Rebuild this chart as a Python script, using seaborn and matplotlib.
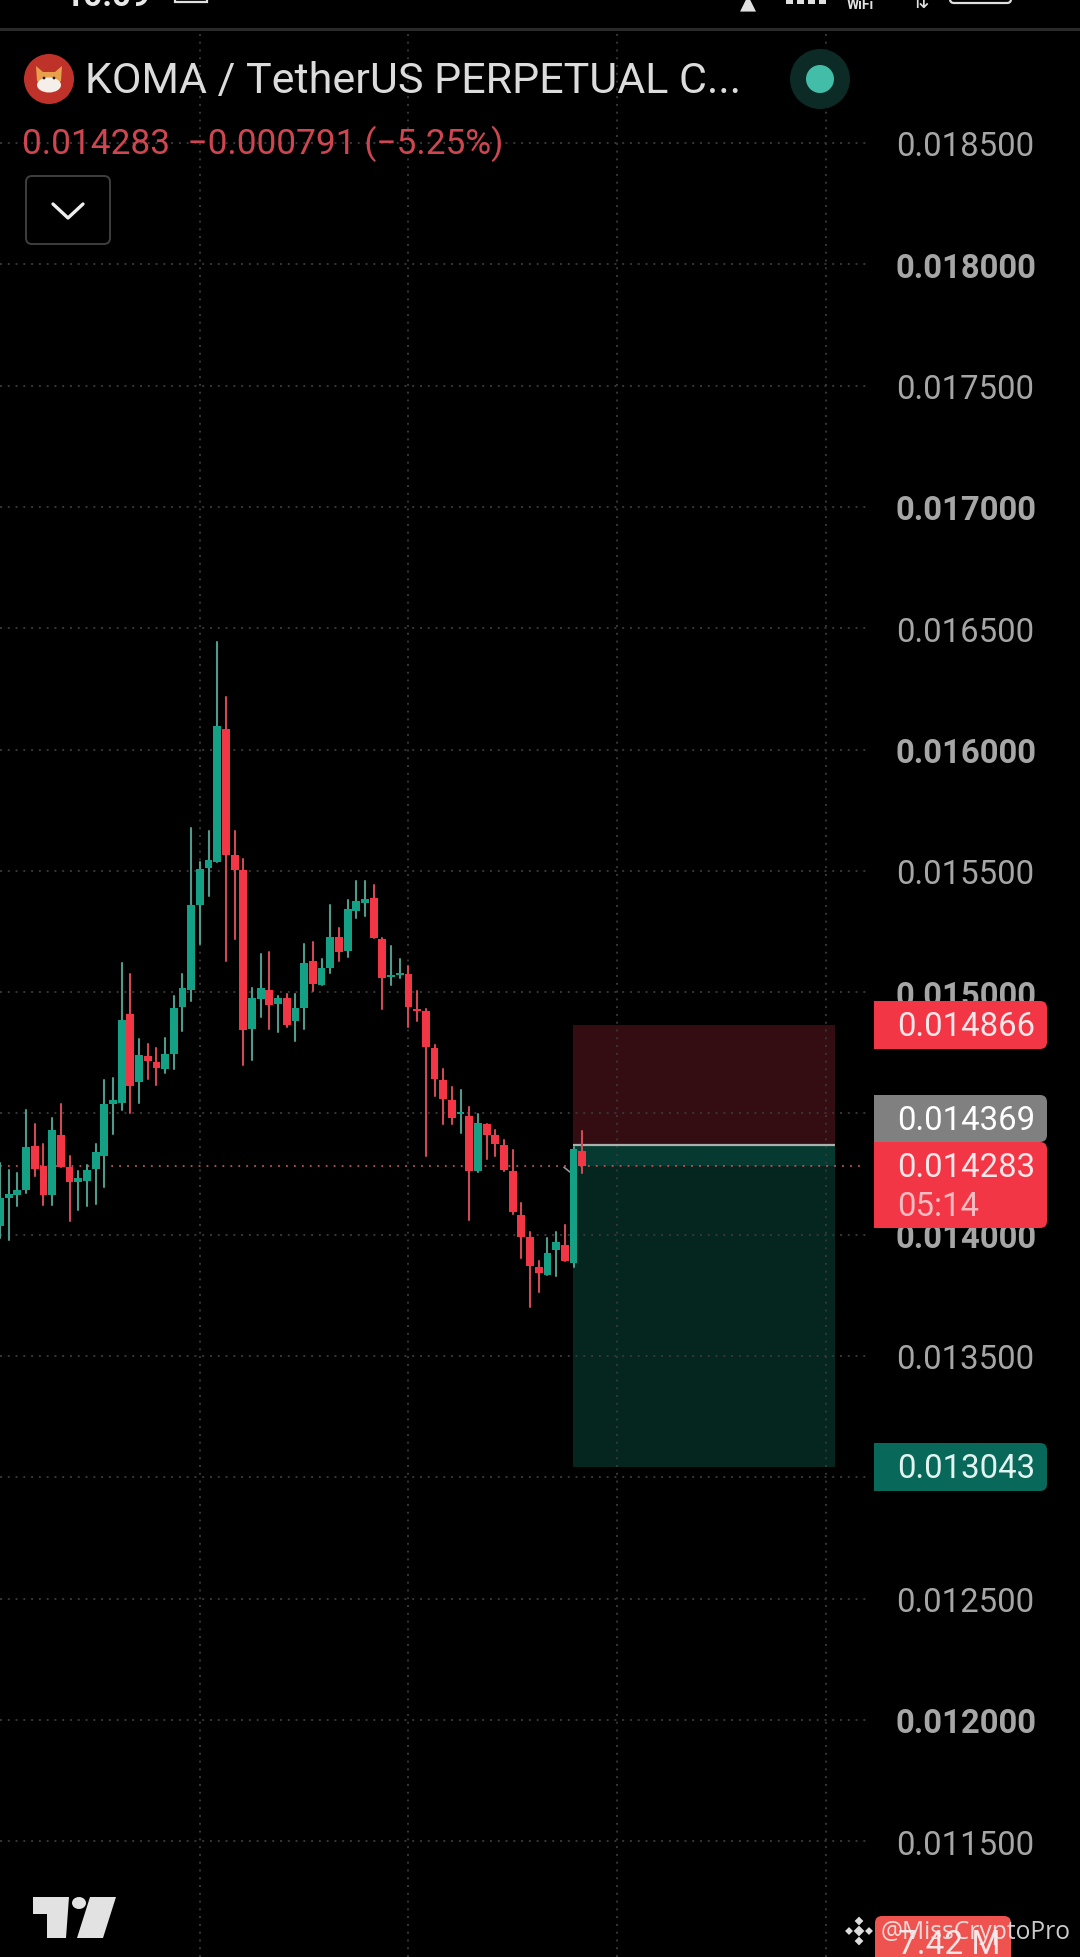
import numpy as np
import pandas as pd
import seaborn as sns
import matplotlib
matplotlib.use("Agg")
import matplotlib.pyplot as plt
from matplotlib.patches import Circle, Ellipse, FancyBboxPatch, Polygon, Rectangle

# candle values
opens = [0.014037, 0.014150, 0.014164, 0.014184, 0.014367, 0.014285, 0.014165, 0.014413, 0.014281, 0.014218,
         0.014222, 0.014271, 0.014326, 0.014537, 0.014543, 0.014911, 0.014630, 0.014735, 0.014713, 0.014682,
         0.014746, 0.014938, 0.015010, 0.015358, 0.015510, 0.015536, 0.016083, 0.015565, 0.015503, 0.014848,
         0.014971, 0.015008, 0.014950, 0.014977, 0.014879, 0.014936, 0.015127, 0.015030, 0.015098, 0.015226,
         0.015171, 0.015333, 0.015366, 0.015387, 0.015219, 0.015061, 0.015072, 0.015075, 0.014930, 0.014921,
         0.014770, 0.014638, 0.014555, 0.014498, 0.014490, 0.014261, 0.014456, 0.014410, 0.014369, 0.014262,
         0.014082, 0.013991, 0.013866, 0.013833, 0.013935, 0.013958, 0.013884, 0.014347]
closes = [0.014150, 0.014167, 0.014184, 0.014363, 0.014271, 0.014165, 0.014433, 0.014281, 0.014218, 0.014232,
          0.014266, 0.014339, 0.014537, 0.014554, 0.014884, 0.014612, 0.014739, 0.014717, 0.014689, 0.014746,
          0.014933, 0.015017, 0.015360, 0.015508, 0.015543, 0.016097, 0.015565, 0.015503, 0.014845, 0.014974,
          0.015015, 0.014947, 0.014974, 0.014866, 0.014934, 0.015119, 0.015034, 0.015098, 0.015226, 0.015167,
          0.015342, 0.015376, 0.015384, 0.015222, 0.015057, 0.015070, 0.015079, 0.014938, 0.014923, 0.014772,
          0.014640, 0.014559, 0.014483, 0.014505, 0.014261, 0.014460, 0.014410, 0.014373, 0.014266, 0.014092,
          0.013990, 0.013870, 0.013844, 0.013924, 0.013971, 0.013890, 0.014354, 0.014283]
highs = [0.014295, 0.014268, 0.014254, 0.014512, 0.014457, 0.014375, 0.014483, 0.014537, 0.014326, 0.014261,
         0.014288, 0.014374, 0.014636, 0.014645, 0.015121, 0.015075, 0.014807, 0.014787, 0.014768, 0.014812,
         0.014984, 0.015075, 0.015676, 0.015536, 0.015664, 0.016445, 0.016217, 0.015664, 0.015549, 0.015015,
         0.015155, 0.015164, 0.014984, 0.014993, 0.014993, 0.015199, 0.015206, 0.015136, 0.015359, 0.015265,
         0.015380, 0.015456, 0.015456, 0.015442, 0.015222, 0.015189, 0.015136, 0.015107, 0.015004, 0.014932,
         0.014780, 0.014681, 0.014608, 0.014598, 0.014527, 0.014498, 0.014457, 0.014432, 0.014391, 0.014350,
         0.014130, 0.014011, 0.013890, 0.013987, 0.014011, 0.014041, 0.014361, 0.014428]
lows = [0.013985, 0.013979, 0.014119, 0.014170, 0.014242, 0.014123, 0.014123, 0.014278, 0.014058, 0.014102,
        0.014119, 0.014128, 0.014198, 0.014415, 0.014515, 0.014503, 0.014541, 0.014641, 0.014616, 0.014667,
        0.014681, 0.014839, 0.014964, 0.015200, 0.015396, 0.015536, 0.015128, 0.015218, 0.014700, 0.014720,
        0.014899, 0.014848, 0.014836, 0.014858, 0.014800, 0.014846, 0.015005, 0.015030, 0.015079, 0.015129,
        0.015145, 0.015307, 0.015315, 0.015222, 0.014931, 0.015030, 0.015057, 0.014858, 0.014879, 0.014326,
        0.014570, 0.014458, 0.014458, 0.014420, 0.014059, 0.014258, 0.014310, 0.014324, 0.014261, 0.014085,
        0.013903, 0.013704, 0.013762, 0.013832, 0.013829, 0.013890, 0.013865, 0.014254]

price_ticks = [0.0115, 0.0120, 0.0125, 0.0130, 0.0135, 0.0140, 0.0145, 0.0150,
               0.0155, 0.0160, 0.0165, 0.0170, 0.0175, 0.0180, 0.0185]
time_ticks = [23, 47, 71, 95]

stop_price = 0.014866
entry_price = 0.014369
target_price = 0.013043
last_price = 0.014283
zone_start, zone_end = 65.9, 96.05

GREEN = "#13a085"
RED = "#f23645"
GREEN_WICK = "#4f9a8a"
RED_WICK = "#cf4a55"
TICK_GREY = "#a6a6a6"
GRID = "#373737"

W, H = 1080, 1958
PX_PER_BAR = 8.69
TOP = 31  # chart starts below the phone status bar
RIGHT = 866
PX_PER_PRICE = 242600.0
LABEL_SIZE = 23.7


def price_y(p):
    return 144 + (0.0185 - p) * PX_PER_PRICE


sns.set_theme(style="dark", rc={"axes.facecolor": "black", "figure.facecolor": "black"})
plt.rcParams["font.family"] = ["Roboto", "DejaVu Sans"]

df = pd.DataFrame({"idx": np.arange(len(opens)), "open": opens, "close": closes, "high": highs, "low": lows})
df["up"] = df["close"] >= df["open"]
df["bottom"] = df[["open", "close"]].min(axis=1)
df["body"] = (df["close"] - df["open"]).abs()

fig = plt.figure(figsize=(W / 100, H / 100), dpi=100, facecolor="black")
ax = fig.add_axes([0, 0, RIGHT / W, (H - TOP) / H])
ax.set_facecolor("black")

# stop / target zones
ax.add_patch(Rectangle((zone_start, entry_price), zone_end - zone_start, stop_price - entry_price,
                       fc="#340d12", ec="none", zorder=0.3))
ax.add_patch(Rectangle((zone_start, target_price), zone_end - zone_start, entry_price - target_price,
                       fc="#04261f", ec="none", zorder=0.3))
ax.add_patch(Rectangle((zone_start, last_price), zone_end - zone_start, entry_price - last_price,
                       fc="#063a30", ec="none", zorder=0.35))
ax.hlines(entry_price, zone_start, zone_end, color="#a9b0ae", lw=1.6, zorder=1.5)

# wicks then bodies
for up, wick_color, body_color in [(True, GREEN_WICK, GREEN), (False, RED_WICK, RED)]:
    part = df[df["up"] == up]
    wicks = part.melt(id_vars="idx", value_vars=["high", "low"], value_name="price")
    sns.lineplot(data=wicks, x="idx", y="price", units="idx", estimator=None, sort=False,
                 color=wick_color, lw=1.5, legend=False, ax=ax, zorder=2)
    sns.barplot(data=part, x="idx", y="body", bottom=part["bottom"].values, native_scale=True,
                color=body_color, saturation=1, width=0.9, errorbar=None, linewidth=0, ax=ax, zorder=3)

ax.hlines(last_price, 0, RIGHT / PX_PER_BAR, color="#b8525a", lw=1.3, linestyles=(0, (1, 3.4)), zorder=1.6)
ax.plot([64.9, 65.6], [0.014238 + 0.00004, 0.014238 + 0.00002], color="#8f9a97", lw=1.2, zorder=1.6)

ax.set_xlim(0, RIGHT / PX_PER_BAR)
ax.set_ylim(0.0185 - (H - 144) / PX_PER_PRICE, 0.0185 + (144 - TOP) / PX_PER_PRICE)
ax.set_xticks(time_ticks)
ax.set_xticklabels([])
ax.set_xlabel("")
ax.set_ylabel("")
ax.yaxis.tick_right()
ax.set_yticks(price_ticks)
ax.set_yticklabels([f"{v:.6f}" for v in price_ticks])
ax.tick_params(axis="both", length=0)
ax.tick_params(axis="y", pad=21.5, labelsize=LABEL_SIZE, labelcolor=TICK_GREY)
for v, lab in zip(price_ticks, ax.get_yticklabels()):
    major = round(v * 1000, 4) == round(v * 1000)
    lab.set_fontweight("bold" if major else "normal")
ax.set_axisbelow(True)
ax.grid(True, color=GRID, lw=1.4, linestyle=(0, (1, 3)))
for s in ax.spines.values():
    s.set_visible(False)

# everything around the chart is laid out in pixels
ui = fig.add_axes([0, 0, 1, 1], zorder=5)
ui.set_xlim(0, W)
ui.set_ylim(H, 0)
ui.axis("off")
ui.patch.set_alpha(0)


def price_box(x0, y0, x1, y1, color):
    ui.add_patch(FancyBboxPatch((x0 + 6, y0 + 6), x1 - x0 - 12, y1 - y0 - 12, boxstyle="round,pad=6,rounding_size=7",
                                fc=color, ec="none", zorder=2))
    ui.add_patch(Rectangle((x0, y0), 14, y1 - y0, fc=color, ec="none", zorder=2))


TX = 897
price_box(874, 1002, 1047, 1050, RED)
ui.text(TX, price_y(stop_price) + 1, f"{stop_price:.6f}", color="#f9e6e8", fontsize=LABEL_SIZE, va="center", zorder=3)
price_box(874, 1096, 1047, 1143, "#808080")
ui.text(TX, 1121, f"{entry_price:.6f}", color="#ffffff", fontsize=LABEL_SIZE, va="center", zorder=3)
price_box(874, 1143, 1047, 1229, RED)
ui.text(TX, price_y(last_price) + 1, f"{last_price:.6f}", color="#f9e6e8", fontsize=LABEL_SIZE, va="center", zorder=3)
ui.text(TX, 1207, "05:14", color="#f7bcc2", fontsize=LABEL_SIZE, va="center", zorder=3)
price_box(874, 1444, 1047, 1492, "#08695a")
ui.text(TX, price_y(target_price) + 1, f"{target_price:.6f}", color="#e2f4f0", fontsize=LABEL_SIZE, va="center", zorder=3)

# phone status bar, mostly cropped away
ui.add_patch(Rectangle((0, 29), W, 3, fc="#2a2a2a", ec="none"))
ui.text(64, 6, "10:09", color="#e8e8e8", fontsize=24, fontweight="bold", va="baseline")
ui.add_patch(Rectangle((175, -10), 32, 13, fc="none", ec="#e0e0e0", lw=1.6))
ui.text(748, 9, "▲", color="#e0e0e0", fontsize=15, ha="center", va="baseline", family="DejaVu Sans")
for bx in [786, 797, 808, 819]:
    ui.add_patch(Rectangle((bx, -5), 7, 10, fc="#e0e0e0", ec="none"))
ui.text(860, 9, "WiFi", color="#e0e0e0", fontsize=10, fontweight="bold", ha="center", va="baseline")
ui.text(920, 8, "⇅", color="#e0e0e0", fontsize=15, ha="center", va="baseline", family="DejaVu Sans")
ui.add_patch(FancyBboxPatch((950, -14), 61, 18, boxstyle="round,pad=0,rounding_size=4", fc="none", ec="#e0e0e0", lw=1.6))

# symbol logo
ui.add_patch(Ellipse((49, 80), 50, 50, fc="#bf322a", ec="none"))
ui.add_patch(Polygon([[36, 67], [43, 73], [55, 73], [62, 67], [61, 82], [49, 90], [37, 82]], fc="#e8a04c", ec="none"))
ui.add_patch(Ellipse((49, 86), 24, 15, fc="#f4efe8", ec="none"))
ui.add_patch(Circle((44, 79), 1.4, fc="#222222", ec="none"))
ui.add_patch(Circle((54, 79), 1.4, fc="#222222", ec="none"))

ui.text(85, 81, "KOMA / TetherUS PERPETUAL C...", color="#dcdcdc", fontsize=31, va="center")
ui.text(22, 143.5, "0.014283  −0.000791 (−5.25%)", color="#cf4650", fontsize=25.4, va="center")

# market status dot
ui.add_patch(Circle((820, 80), 30, fc="#0c2a26", ec="none"))
ui.add_patch(Circle((820, 80), 14, fc="#42bda8", ec="none"))

# collapse button
ui.add_patch(FancyBboxPatch((26, 177), 84, 68, boxstyle="round,pad=0,rounding_size=6", fc="black", ec="#3e3e3e", lw=1.4))
ui.plot([53, 68, 83], [205, 219, 205], color="#eeeeee", lw=2.4)

# TV logo
ui.add_patch(Polygon([[33, 1898], [69, 1898], [66, 1939], [47, 1939], [47, 1915], [33, 1915]], fc="#e2e2e2", ec="none"))
ui.add_patch(Ellipse((79, 1904), 14, 12, fc="#e2e2e2", ec="none"))
ui.add_patch(Polygon([[90, 1898], [116, 1898], [103, 1939], [77, 1939]], fc="#e2e2e2", ec="none"))

# volume tag and watermark at the bottom
ui.add_patch(FancyBboxPatch((875, 1917), 136, 60, boxstyle="round,pad=0,rounding_size=7", fc="#ef5350", ec="none"))
ui.text(898, 1945, "7.42 M", color="#f8e4e4", fontsize=24, va="center")
ui.text(881, 1933, "@MissCryptoPro", color="#f0f0f0", alpha=0.85, fontsize=17.7, va="center", family="Open Sans")
ui.scatter([859, 859, 859, 849, 869], [1922, 1932, 1942, 1932, 1932], marker="D", s=[20, 30, 20, 16, 16], color="#dddddd", lw=0)

fig.savefig("out.png", dpi=100, facecolor="black")
